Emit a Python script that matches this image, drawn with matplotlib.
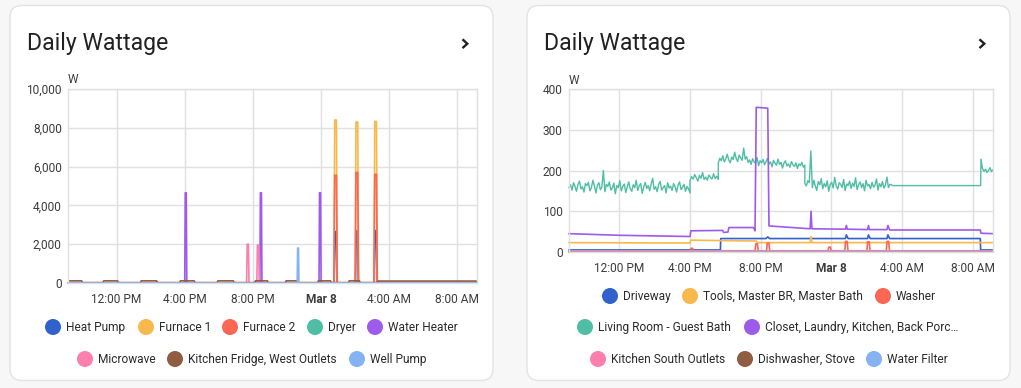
import numpy as np
import matplotlib.pyplot as plt
from matplotlib.patches import FancyBboxPatch, Circle
from matplotlib.ticker import FuncFormatter

plt.rcParams['font.family'] = ['Roboto', 'DejaVu Sans']

# ---------------- data (hours since midnight Mar 7) ----------------
t_start, t_end = 9.15, 33.15
tick_hours = [12, 16, 20, 24, 28, 32]
tick_labels = ["12:00 PM", "4:00 PM", "8:00 PM", "Mar 8", "4:00 AM", "8:00 AM"]

# left card: big loads, spikes (center hour, watts)
heat_pump_t = [24.85, 26.1, 27.2]
heat_pump_w = [2650, 2680, 2700]
furnace1_t = [24.85, 26.1, 27.2]
furnace1_w = [8400, 8300, 8330]
furnace2_t = [24.85, 26.1, 27.2]
furnace2_w = [5550, 5700, 5600]
water_heater_t = [16.06, 20.47, 23.94]
water_heater_w = [4650, 4650, 4650]
microwave_t = [19.7, 20.3]
microwave_w = [2000, 1950]
well_pump_t = [22.65]
well_pump_w = [1800]
fridge_on_start = [9.15, 11.2, 13.4, 15.7, 17.9, 20.1, 21.9, 23.8, 25.6, 27.3]
fridge_on_end = [10.0, 12.1, 14.4, 16.6, 18.9, 20.9, 22.6, 24.6, 26.3, 33.15]
fridge_on_w = [110, 110, 110, 110, 110, 110, 110, 110, 110, 100]
fridge_off_w = 20

# right card: circuits
driveway_t = [9.15, 16.0, 16.1, 16.2, 17.72, 17.74, 20.3, 20.4, 20.5, 24.8, 24.85, 24.95,
              26.05, 26.1, 26.2, 27.15, 27.2, 27.3, 32.43, 32.45, 33.15]
driveway_w = [5, 5, 8, 5, 5, 33, 33, 37, 33, 33, 42, 33, 33, 42, 33, 33, 42, 33, 33, 5, 5]
tools_t = [9.15, 16.0, 16.05, 17.7, 19.75, 19.8, 22.8, 22.85, 22.9, 33.15]
tools_w = [23, 22, 29, 28, 27, 23, 23, 38, 23, 23]
washer_t = [16.1, 19.77, 20.42, 23.9, 24.85, 26.1, 27.2]
washer_w = [9, 20, 22, 12, 26, 25, 26]
washer_base = 3
closet_t = [9.15, 12.0, 16.0, 16.05, 17.85, 17.9, 18.15, 18.2, 19.6, 19.68, 19.75, 20.4, 20.47,
            22.8, 22.85, 22.9, 24.8, 24.85, 24.9, 26.05, 26.1, 26.15, 27.15, 27.2, 27.3,
            32.43, 32.47, 33.15]
closet_w = [45, 41, 38, 52, 53, 48, 49, 60, 60, 52, 355, 353, 64, 57, 100, 57, 56, 65, 56,
            55, 65, 55, 55, 65, 54, 54, 46, 45]
living_a = [158, 165, 152, 170, 161, 149, 166, 174, 155, 160, 147, 168, 163, 171, 150, 158,
            176, 162, 145, 164, 170, 153, 159, 200, 148, 166, 161, 172, 152, 157, 169, 143,
            163, 158, 175, 150, 161, 167, 146, 160, 172, 155, 149, 165, 158, 176, 151, 162,
            168, 144, 159, 171, 156, 163, 150, 167, 181, 154, 160, 148, 166, 173, 152, 158,
            163, 145, 170, 157, 162, 151, 168, 160, 147, 164, 172, 153, 159, 166, 149, 161,
            155, 145]
living_b = [176, 185, 179, 190, 182, 174, 188, 181, 195, 178, 184, 176, 189, 183, 179, 192,
            180, 186, 178]
living_c = [218, 230, 224, 236, 221, 228, 240, 226, 219, 233, 227, 245, 229, 222, 238, 231,
            225, 255, 228, 234, 220, 226, 215, 229, 221, 218, 232, 212, 224, 219, 227, 214,
            222, 230, 216, 221, 209, 225, 218, 213, 228, 215, 220, 206, 218, 224, 211, 216,
            208, 222, 214, 210, 219, 205, 216, 212, 220, 208, 213]
living_d = [168, 162, 175, 170, 248, 158, 176, 162, 151, 173, 165, 180, 155, 168, 160, 175,
            149, 166, 171, 157, 183, 162, 154, 170, 166, 158, 178, 151, 167, 163, 174, 156,
            169, 161, 182, 153, 165, 172, 158, 168, 150, 176, 162, 166, 155, 171, 159, 164,
            179, 152, 168, 160, 173, 157, 165, 184, 158, 166, 165]
living_flat = 163
living_e = [228, 205, 198, 203, 195, 200, 207, 197, 202]
living_seg_edges = [9.15, 16.0, 17.6, 22.5, 27.4, 32.45, 33.15]
kitchen_south_w = 3
dishwasher_w = 1
water_filter_w = 0.5

# ---------------- style ----------------
C_BLUE, C_ORANGE, C_RED = "#3161cc", "#f9b84b", "#fb6752"
C_TEAL, C_PURPLE, C_PINK = "#4fbea5", "#9e5aea", "#fd7fac"
C_BROWN, C_LBLUE = "#905c42", "#84b2f2"
TXT = "#212121"
GRID = "#e0e0e0"
W, H = 1021, 388
FS_TICK = 8.6
FS_LEG = 8.6


def spikes(centers, heights, width, base=0.0):
    t, w = [t_start], [base]
    for c, h in zip(centers, heights):
        t += [c - width / 2, c - width / 4, c + width / 4, c + width / 2]
        w += [base, h, h, base]
    t.append(t_end)
    w.append(base)
    return t, w


def fridge_series():
    t, w = [], []
    for s, e, h in zip(fridge_on_start, fridge_on_end, fridge_on_w):
        if t:
            t.append(s)
            w.append(fridge_off_w)
        t += [s + 0.05, e - 0.05]
        w += [h, h]
        t.append(e)
        w.append(fridge_off_w)
    return t, w


def living_series():
    segs = [living_a, living_b, living_c, living_d]
    t, w = [], []
    for i, seg in enumerate(segs):
        t += list(np.linspace(living_seg_edges[i], living_seg_edges[i + 1], len(seg)))
        w += seg
    t += [living_seg_edges[4] + 0.05, living_seg_edges[5]]
    w += [living_flat, living_flat]
    t += list(np.linspace(living_seg_edges[5] + 0.02, living_seg_edges[6], len(living_e)))
    w += living_e
    return t, w


def px_axes(x0, y0, x1, y1):
    return fig.add_axes([x0 / W, 1 - y1 / H, (x1 - x0) / W, (y1 - y0) / H])


def style_chart(ax, ymax, ystep):
    ax.set_xlim(t_start, t_end)
    ax.set_ylim(0, ymax)
    ax.set_yticks(np.arange(0, ymax + 1, ystep))
    ax.yaxis.set_major_formatter(FuncFormatter(lambda v, p: f"{int(v):,}"))
    ax.set_xticks(tick_hours)
    ax.set_xticklabels(tick_labels)
    for lab in ax.get_xticklabels():
        if lab.get_text() == "Mar 8":
            lab.set_fontweight("bold")
            lab.set_color(TXT)
    ax.grid(True, color=GRID, lw=1.0)
    ax.set_axisbelow(True)
    for s in ax.spines.values():
        s.set_color(GRID)
        s.set_linewidth(1.0)
    ax.tick_params(length=0, labelsize=FS_TICK, colors="#3c3c3c")
    ax.tick_params(axis="y", pad=4.5)
    ax.tick_params(axis="x", pad=7)
    ax.set_facecolor("none")
    ax.text(0.0, 1.015, "W", transform=ax.transAxes, fontsize=FS_TICK, color="#3c3c3c",
            ha="left", va="bottom")


def draw(ax, t, w, color, lw=1.2):
    ax.plot(t, w, color=color, lw=lw, clip_on=False, solid_joinstyle="round")


fig = plt.figure(figsize=(W / 100, H / 100), dpi=100)
fig.patch.set_facecolor("#f7f7f7")

bg = fig.add_axes([0, 0, 1, 1], zorder=-1)
bg.set_xlim(0, W)
bg.set_ylim(H, 0)
bg.axis("off")

for x0 in [10, 527]:
    bg.add_patch(FancyBboxPatch((x0, 5.5), 483, 375, boxstyle="round,pad=0,rounding_size=12",
                                facecolor="white", edgecolor="#e3e3e3", lw=1.0))
    bg.text(x0 + 17, 50, "Daily Wattage", fontsize=16.6, color=TXT, ha="left", va="baseline")
    cx = x0 + 452.5
    bg.plot([cx, cx + 4.8, cx], [39.3, 43.7, 48.1], color=TXT, lw=1.7,
            solid_joinstyle="miter", solid_capstyle="butt")

# ---------------- left chart ----------------
axl = px_axes(68, 89, 477, 283)
style_chart(axl, 10000, 2000)
draw(axl, *spikes(heat_pump_t, heat_pump_w, 0.16), C_BLUE)
draw(axl, *spikes(furnace1_t, furnace1_w, 0.2), C_ORANGE)
draw(axl, *spikes(furnace2_t, furnace2_w, 0.2), C_RED)
draw(axl, [t_start, t_end], [0, 0], C_TEAL)
draw(axl, *spikes(water_heater_t, water_heater_w, 0.12), C_PURPLE)
draw(axl, *spikes(microwave_t, microwave_w, 0.14, base=10), C_PINK)
draw(axl, *fridge_series(), C_BROWN)
draw(axl, *spikes(well_pump_t, well_pump_w, 0.1), C_LBLUE)

# ---------------- right chart ----------------
axr = px_axes(569, 89, 993, 252)
style_chart(axr, 400, 100)
draw(axr, driveway_t, driveway_w, C_BLUE)
draw(axr, tools_t, tools_w, C_ORANGE)
draw(axr, *spikes(washer_t, washer_w, 0.18, base=washer_base), C_RED)
draw(axr, *living_series(), C_TEAL, lw=1.0)
draw(axr, closet_t, closet_w, C_PURPLE)
draw(axr, [t_start, t_end], [kitchen_south_w] * 2, C_PINK)
draw(axr, [t_start, t_end], [dishwasher_w] * 2, C_BROWN)
draw(axr, [t_start, t_end], [water_filter_w] * 2, C_LBLUE)

# ---------------- legends ----------------
left_legend = [
    ("Heat Pump", C_BLUE, 53, 327), ("Furnace 1", C_ORANGE, 146, 327),
    ("Furnace 2", C_RED, 230, 327), ("Dryer", C_TEAL, 315, 327),
    ("Water Heater", C_PURPLE, 375, 327), ("Microwave", C_PINK, 85, 359),
    ("Kitchen Fridge, West Outlets", C_BROWN, 175, 359), ("Well Pump", C_LBLUE, 357, 359),
]
right_legend = [
    ("Driveway", C_BLUE, 610, 296), ("Tools, Master BR, Master Bath", C_ORANGE, 690, 296),
    ("Washer", C_RED, 883, 296), ("Living Room - Guest Bath", C_TEAL, 585, 327),
    ("Closet, Laundry, Kitchen, Back Porc…", C_PURPLE, 752, 327),
    ("Kitchen South Outlets", C_PINK, 598, 359), ("Dishwasher, Stove", C_BROWN, 745, 359),
    ("Water Filter", C_LBLUE, 874, 359),
]
for name, col, cx, cy in left_legend + right_legend:
    bg.add_patch(Circle((cx, cy), 8, facecolor=col, edgecolor="none"))
    bg.text(cx + 12.5, cy + 0.5, name, fontsize=FS_LEG, color="#2a2a2a", ha="left", va="center")

fig.savefig("out.png", dpi=100, facecolor=fig.get_facecolor())
